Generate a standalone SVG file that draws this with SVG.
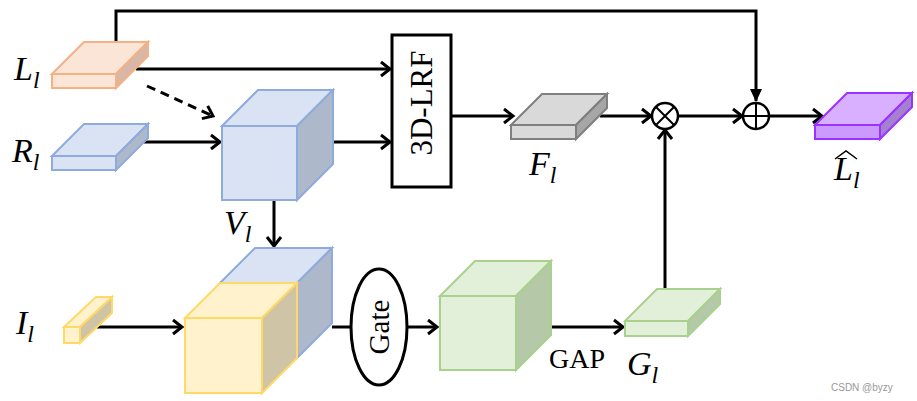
<svg xmlns="http://www.w3.org/2000/svg" width="917" height="401" viewBox="0 0 917 401">
<style>
.ln{stroke:#000;stroke-width:3;fill:none}
.lbl{font-family:"Liberation Serif",serif;font-style:italic;font-size:34px;fill:#000}
.sub{font-size:24px}
.txt{font-family:"Liberation Serif",serif;fill:#000}
.or{fill:#fbe5d6;stroke:#f4b183;stroke-width:2}
.ors{fill:#d9b7a8;stroke:#f4b183;stroke-width:2}
.bl{fill:#dae3f3;stroke:#8faadc;stroke-width:2}
.bls{fill:#adb9ca;stroke:#8faadc;stroke-width:2}
.gr{fill:#d9d9d9;stroke:#7f7f7f;stroke-width:2}
.grs{fill:#a6a6a6;stroke:#7f7f7f;stroke-width:2}
.pu{fill:#cc99ff;stroke:#9933ff;stroke-width:2}
.put{fill:#d9b0ff;stroke:#9933ff;stroke-width:2}
.pus{fill:#a77fd1;stroke:#9933ff;stroke-width:2}
.gn{fill:#e2f0d9;stroke:#a9d18e;stroke-width:2}
.gns{fill:#b5c9a9;stroke:#a9d18e;stroke-width:2}
.ye{fill:#fff2cc;stroke:#ffd966;stroke-width:2}
.yes{fill:#cfc4a5;stroke:#ffd966;stroke-width:2}
</style>
<defs>
<marker id="a" markerUnits="userSpaceOnUse" markerWidth="14" markerHeight="18" refX="11" refY="9" orient="auto"><path d="M2,2 L11,9 L2,16" fill="none" stroke="#000" stroke-width="3"/></marker>
<marker id="t" markerUnits="userSpaceOnUse" markerWidth="14" markerHeight="14" refX="12" refY="7" orient="auto"><path d="M0,1 L13,7 L0,13 Z" fill="#000"/></marker>
</defs>
<g id="connectors">
<path class="ln" d="M116,42 V11 H756 V101" marker-end="url(#t)"/>
<path class="ln" d="M136,69 H390" marker-end="url(#a)"/>
<path class="ln" d="M147,86 L213,116" stroke-dasharray="9,6" marker-end="url(#a)"/>
<path class="ln" d="M144,142 H220" marker-end="url(#a)"/>
<path class="ln" d="M333,142 H390" marker-end="url(#a)"/>
<path class="ln" d="M274,200 V246" marker-end="url(#a)"/>
<path class="ln" d="M451,116 H513" marker-end="url(#a)"/>
<path class="ln" d="M600,116 H651" marker-end="url(#a)"/>
<path class="ln" d="M678,116 H742" marker-end="url(#a)"/>
<path class="ln" d="M769,116 H822" marker-end="url(#a)"/>
<path class="ln" d="M665,290 V130" marker-end="url(#a)"/>
<path class="ln" d="M97,327 H182" marker-end="url(#a)"/>
<path class="ln" d="M332,327 H351"/>
<path class="ln" d="M407,327 H437" marker-end="url(#a)"/>
<path class="ln" d="M551,327 H623" marker-end="url(#a)"/>
</g>
<g id="L">
<rect class="or" x="52" y="74" width="64" height="14"/>
<polygon class="or" points="52,74 84,42 148,42 116,74"/>
<polygon class="ors" points="116,74 148,42 148,56 116,88"/>
<text class="lbl" x="14" y="80">L<tspan class="sub" dy="8">l</tspan></text>
</g>
<g id="R">
<rect class="bl" x="52" y="156" width="64" height="14"/>
<polygon class="bl" points="52,156 84,124 148,124 116,156"/>
<polygon class="bls" points="116,156 148,124 148,138 116,170"/>
<text class="lbl" x="12" y="162">R<tspan class="sub" dy="8">l</tspan></text>
</g>
<g id="V">
<rect class="bl" x="222" y="126" width="75" height="74"/>
<polygon class="bl" points="222,126 258,90 333,90 297,126"/>
<polygon class="bls" points="297,126 333,90 333,164 297,200"/>
<text class="lbl" x="224" y="234">V<tspan class="sub" dy="8">l</tspan></text>
</g>
<g id="LRF">
<rect x="392" y="35" width="59" height="152" fill="#fff" stroke="#000" stroke-width="3"/>
<text class="txt" transform="translate(432,103) rotate(-90)" text-anchor="middle" style="font-size:31px">3D-LRF</text>
</g>
<g id="F">
<rect class="gr" x="511" y="125" width="65" height="14"/>
<polygon class="gr" points="511,125 542,94 607,94 576,125"/>
<polygon class="grs" points="576,125 607,94 607,108 576,139"/>
<text class="lbl" x="529" y="175">F<tspan class="sub" dy="8">l</tspan></text>
</g>
<g id="mul">
<circle cx="665" cy="116" r="13" fill="#fff" stroke="#000" stroke-width="2.5"/>
<path d="M656,107 L674,125 M674,107 L656,125" stroke="#000" stroke-width="2"/>
</g>
<g id="add">
<circle cx="756" cy="116" r="13" fill="#fff" stroke="#000" stroke-width="2.5"/>
<path d="M743,116 H769 M756,103 V129" stroke="#000" stroke-width="2"/>
</g>
<g id="Lhat">
<rect class="pu" x="815" y="125" width="65" height="14"/>
<polygon class="put" points="815,125 847,93 912,93 880,125"/>
<polygon class="pus" points="880,125 912,93 912,107 880,139"/>
<text class="lbl" x="834" y="180">L<tspan class="sub" dy="8">l</tspan></text>
<path d="M835,159 L846,151 L857,159" fill="none" stroke="#000" stroke-width="1.5"/>
</g>
<g id="I">
<rect class="ye" x="64" y="327" width="16" height="16"/>
<polygon class="ye" points="64,327 96,297 112,297 80,327"/>
<polygon class="yes" points="80,327 112,297 112,313 80,343"/>
<text class="lbl" x="16" y="334">I<tspan class="sub" dy="8">l</tspan></text>
</g>
<g id="concat">
<polygon class="bl" points="220,283 255,248 332,248 297,283"/>
<polygon class="bls" points="297,283 332,248 332,323 297,358"/>
<rect class="ye" x="185" y="318" width="77" height="75"/>
<polygon class="ye" points="185,318 220,283 297,283 262,318"/>
<polygon class="yes" points="262,318 297,283 297,358 262,393"/>
</g>
<g id="gate">
<ellipse cx="379" cy="327" rx="28" ry="58" fill="#fff" stroke="#000" stroke-width="3"/>
<text class="txt" transform="translate(389,327) rotate(-90)" text-anchor="middle" style="font-size:29px">Gate</text>
</g>
<g id="green">
<rect class="gn" x="440" y="296" width="76" height="74"/>
<polygon class="gn" points="440,296 475,261 551,261 516,296"/>
<polygon class="gns" points="516,296 551,261 551,335 516,370"/>
<text class="txt" x="549" y="368" style="font-size:28px">GAP</text>
</g>
<g id="G">
<rect class="gn" x="625" y="321" width="63" height="15"/>
<polygon class="gn" points="625,321 657,289 720,289 688,321"/>
<polygon class="gns" points="688,321 720,289 720,304 688,336"/>
<text class="lbl" x="627" y="375">G<tspan class="sub" dy="8">l</tspan></text>
</g>
<text x="831" y="391" font-family="Liberation Sans,sans-serif" font-size="10" fill="#999">CSDN @byzy</text>
</svg>
